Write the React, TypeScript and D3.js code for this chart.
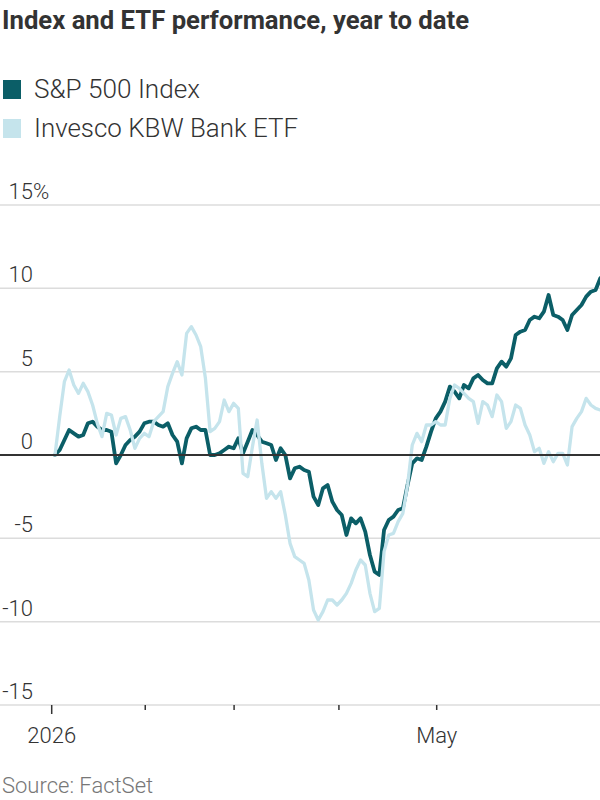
import React from "react";
import * as d3 from "d3";

const title = "Index and ETF performance, year to date";
const seriesNames = ["S&P 500 Index", "Invesco KBW Bank ETF"];
const seriesColors = ["#0b5e67", "#c5e4ec"];
const seriesWidths = [3.8, 3.3];

// Daily (trading-day) performance values, % year to date
const spx = [
  0, 0.3, 0.9, 1.5, 1.3, 1.1, 1.2, 1.9, 2.0, 1.7,
  1.5, 1.5, 1.4, -0.5, 0.0, 0.6, 0.9, 1.1, 1.4, 1.9,
  2.0, 2.0, 1.8, 1.7, 1.9, 1.2, 0.8, -0.5, 1.0, 1.6,
  1.7, 1.5, 1.5, 0.0, 0.0, 0.1, 0.3, 0.5, 0.4, 1.0,
  0.1, 0.8, 1.5, 1.2, 0.8, 0.7, 0.6, -0.3, 0.4, 0.0,
  -1.4, -0.8, -0.7, -0.9, -1.0, -2.5, -3.0, -2.0, -1.8, -2.8,
  -3.3, -3.6, -4.8, -3.8, -4.1, -3.8, -4.6, -6.0, -7.0, -7.2,
  -4.5, -3.9, -3.7, -3.3, -3.2, -1.8, -0.5, -0.2, -0.3, 0.5,
  1.4, 2.2, 2.6, 3.2, 4.1, 3.8, 3.4, 4.2, 4.0, 4.6,
  4.8, 4.5, 4.3, 4.3, 5.2, 5.6, 5.3, 5.8, 7.2, 7.4,
  7.5, 8.1, 8.3, 8.2, 8.6, 9.6, 8.4, 8.3, 8.1, 7.5,
  8.4, 8.7, 9.0, 9.5, 9.8, 9.9, 10.6,
];
const kbwb = [
  0, 2.3, 4.4, 5.1, 4.2, 3.7, 4.3, 3.8, 3.0, 1.9,
  1.1, 2.5, 2.4, 1.2, 2.2, 2.3, 1.5, 0.4, 1.0, 1.3,
  1.1, 2.0, 2.3, 2.6, 4.1, 4.9, 5.6, 4.8, 7.3, 7.7,
  7.2, 6.5, 4.6, 1.4, 1.6, 2.0, 3.3, 2.6, 3.1, 2.8,
  -1.1, -1.3, 0.5, 2.1, -0.5, -2.6, -2.2, -2.6, -2.2, -3.6,
  -5.3, -6.1, -6.3, -6.5, -7.5, -9.3, -9.9, -9.4, -8.7, -8.7,
  -9.0, -8.7, -8.3, -7.7, -6.9, -6.3, -6.6, -8.3, -9.4, -9.2,
  -5.8, -4.8, -4.7, -4.0, -3.5, -1.8, 0.6, 1.3, 0.8, 1.8,
  1.8, 2.0, 1.8, 1.8, 3.4, 4.2, 4.0, 3.7, 3.4, 3.2,
  1.9, 3.2, 3.0, 2.3, 3.6, 3.2, 1.6, 2.0, 3.0, 2.8,
  1.8, 1.2, 0.2, 0.4, -0.5, 0.2, -0.4, 0.1, 0.1, -0.6,
  1.7, 2.2, 2.6, 3.4, 3.0, 2.8, 2.7,
];

const yTicks = [15, 10, 5, 0, -5, -10, -15];
// month starts, in trading-day index units
const monthTickPos = [-0.7, 19.2, 38.1, 60.4, 81.2];
const monthTickLabels = ["2026", "", "", "", "May"];
const source = "Source: FactSet";

const W = 600;
const H = 800;
const FONT = "Roboto, 'Noto Sans', sans-serif";

export default function App() {
  const x = d3.scaleLinear().domain([-0.7, 81.2]).range([51.7, 436.7]);
  const y = d3.scaleLinear().domain([-15, 15]).range([705, 205]);

  const line = d3
    .line<number>()
    .x((_, i) => x(i))
    .y((d) => y(d));

  const data = [spx, kbwb];

  return (
    <svg
      width={W}
      height={H}
      style={{ position: "absolute", left: 0, top: 0, background: "#fff" }}
      fontFamily={FONT}
    >
      <text
        x={2}
        y={29}
        fontSize={26}
        fontWeight={700}
        fill="#333"
        textLength={467}
        lengthAdjust="spacingAndGlyphs"
      >
        {title}
      </text>

      {seriesNames.map((name, k) => (
        <g key={name} transform={`translate(0, ${k * 39})`}>
          <rect x={3} y={80} width={18} height={19} fill={seriesColors[k]} />
          <text
            x={34}
            y={98}
            fontSize={26}
            fontWeight={300}
            fill="#333"
            textLength={k === 0 ? 166 : 264}
            lengthAdjust="spacingAndGlyphs"
          >
            {name}
          </text>
        </g>
      ))}

      {yTicks
        .filter((t) => t !== 0)
        .map((t) => (
          <line
            key={`g${t}`}
            x1={0}
            x2={W}
            y1={y(t)}
            y2={y(t)}
            stroke="#dcdcdc"
            strokeWidth={1.5}
          />
        ))}
      {yTicks.map((t) => (
        <g key={`l${t}`}>
          <text
            x={33}
            y={y(t) - 6}
            textAnchor="end"
            fontSize={22}
            fontWeight={300}
            fill="#333"
          >
            {t}
          </text>
          {t === yTicks[0] && (
            <text x={33} y={y(t) - 6} fontSize={22} fontWeight={300} fill="#333">
              %
            </text>
          )}
        </g>
      ))}

      {monthTickPos.map((p, i) => (
        <g key={`m${i}`}>
          <line
            x1={x(p)}
            x2={x(p)}
            y1={y(-15)}
            y2={y(-15) + (i === 0 ? 9 : 5)}
            stroke="#333"
            strokeWidth={1.5}
          />
          {monthTickLabels[i] && (
            <text
              x={x(p)}
              y={743}
              textAnchor="middle"
              fontSize={22}
              fontWeight={300}
              fill="#333"
            >
              {monthTickLabels[i]}
            </text>
          )}
        </g>
      ))}

      {data.map((s, k) => (
        <path
          key={`s${k}`}
          d={line(s) || ""}
          fill="none"
          stroke={seriesColors[k]}
          strokeWidth={seriesWidths[k]}
          strokeLinejoin="round"
          strokeLinecap="round"
        />
      ))}

      <line x1={0} x2={W} y1={y(0)} y2={y(0)} stroke="#333" strokeWidth={2} />

      <text x={2} y={793} fontSize={22} fontWeight={300} fill="#777">
        {source}
      </text>
    </svg>
  );
}
